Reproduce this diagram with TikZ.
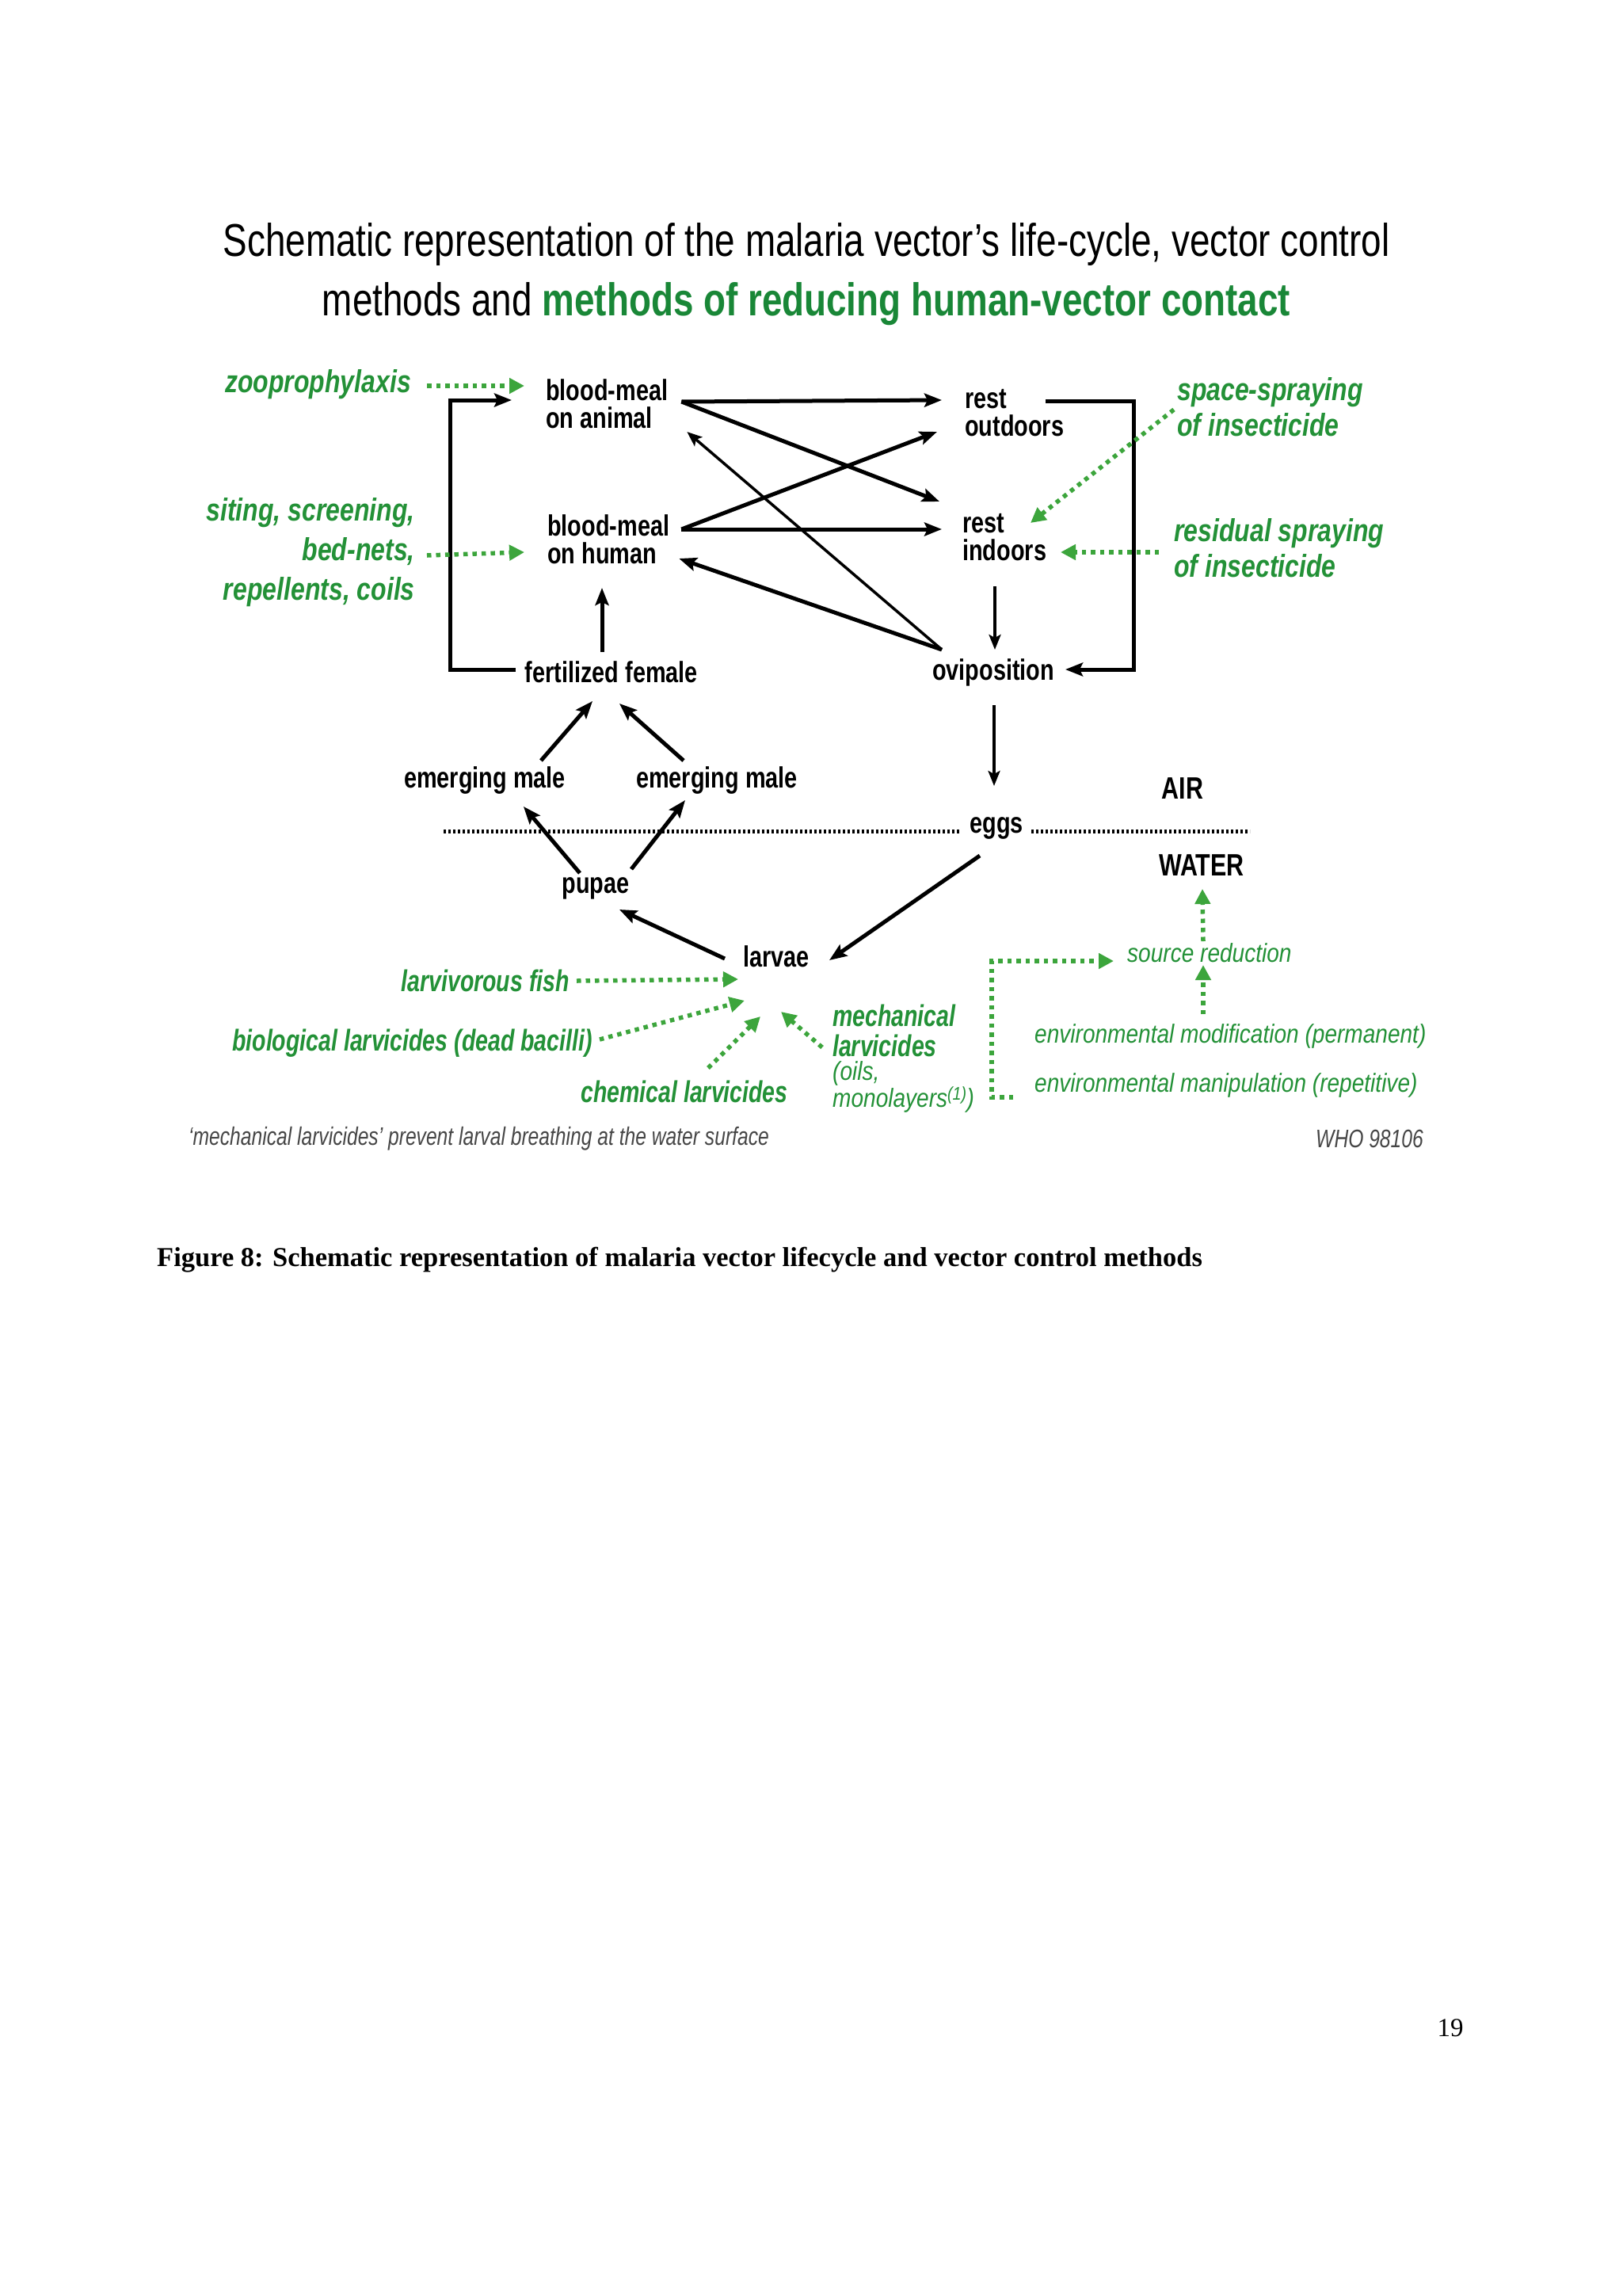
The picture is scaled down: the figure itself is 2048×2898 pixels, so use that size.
\documentclass[tikz,border=0pt]{standalone}
\usepackage{fontspec}
\setmainfont{Liberation Sans}
\newfontfamily\lab[FakeStretch=0.78]{Liberation Sans}
\newfontfamily\titlef[FakeStretch=0.79]{Liberation Sans}
\newfontfamily\glab[FakeStretch=0.8]{Liberation Sans}
\newfontfamily\glabn[FakeStretch=0.75]{Liberation Sans}
\newfontfamily\gsmall[FakeStretch=0.85]{Liberation Sans}
\newfontfamily\footf[FakeStretch=0.77]{Liberation Sans}
\newfontfamily\capf{Liberation Serif}
\usetikzlibrary{arrows.meta}
\definecolor{tgreen}{RGB}{25,135,55}
\definecolor{lgreen}{RGB}{35,145,55}
\definecolor{agreen}{RGB}{60,165,60}
\definecolor{fgray}{RGB}{70,70,70}
\tikzset{
  blk/.style={font=\lab\bfseries\fontsize{37}{35}\selectfont, inner sep=0pt, align=left},
  airw/.style={font=\lab\bfseries\fontsize{39}{39}\selectfont, inner sep=0pt},
  gbig/.style={text=lgreen, font=\glab\bfseries\itshape\fontsize{40}{45}\selectfont, inner sep=0pt},
  glow/.style={text=lgreen, font=\glabn\bfseries\itshape\fontsize{38}{38}\selectfont, inner sep=0pt},
  gsm/.style={text=lgreen, font=\gsmall\itshape\fontsize{33}{33}\selectfont, inner sep=0pt},
  barr/.style={line width=5pt, -{Stealth[length=22pt,width=17pt,inset=4pt]}},
  tarr/.style={line width=3.5pt, -{Stealth[length=19pt,width=15pt,inset=4pt]}},
  garr/.style={agreen, line width=5.5pt, dash pattern=on 5.5pt off 6pt, -{Triangle[length=19pt,width=19pt]}},
  wline/.style={line width=5pt, dash pattern=on 3pt off 3pt},
}
\begin{document}
\begin{tikzpicture}[x=1pt,y=-1pt]
\path[use as bounding box, fill=white] (0,0) rectangle (2048,2898);

% title
\node[inner sep=0pt, font=\titlef\fontsize{58}{58}\selectfont] (t1) at (1018,309)
  {Schematic representation of the malaria vector’s life-cycle, vector control};
\node[inner sep=0pt, font=\titlef\fontsize{58}{58}\selectfont] (t2) at (1018,384)
  {methods and \textcolor{tgreen}{\bfseries methods of reducing human-vector contact}};

% life-cycle nodes
\node[blk, anchor=west] (bma) at (689,510) {blood-meal\\on animal};
\node[blk, anchor=west] (bmh) at (691,681) {blood-meal\\on human};
\node[blk, anchor=west] (ro) at (1218,521) {rest\\outdoors};
\node[blk, anchor=west] (ri) at (1215,678) {rest\\indoors};
\node[blk] (ff) at (772,848) {fertilized female};
\node[blk] (ov) at (1254,849) {oviposition};
\node[blk] (em1) at (612,985) {emerging male};
\node[blk] (em2) at (905,985) {emerging male};
\node[blk] (eggs) at (1258,1045) {eggs};
\node[blk] (pupae) at (752,1121) {pupae};
\node[blk] (larvae) at (980,1207) {larvae};
\node[airw] (air) at (1493,995) {AIR};
\node[airw] (water) at (1517,1092) {WATER};

% green methods
\node[gbig, anchor=east] (zoo) at (519,485) {zooprophylaxis};
\node[gbig, anchor=east, align=right, font=\glab\bfseries\itshape\fontsize{40}{50}\selectfont] (sit) at (524,697)
  {siting, screening,\\bed-nets,\\repellents, coils};
\node[gbig, anchor=west, align=left] (space) at (1486,514) {space-spraying\\of insecticide};
\node[gbig, anchor=west, align=left] (resid) at (1482,692) {residual spraying\\of insecticide};
\node[glow, anchor=east] (fish) at (719,1238) {larvivorous fish};
\node[glow, anchor=east] (biol) at (748,1317) {biological larvicides (dead bacilli)};
\node[glow] (chem) at (864,1378) {chemical larvicides};
\node[glow, anchor=west, align=left] (mech) at (1051,1301) {mechanical\\larvicides};
\node[gsm, anchor=west, align=left, font=\gsmall\itshape\fontsize{33}{31}\selectfont] (mechsub) at (1051,1372) {(oils,\\monolayers\textsuperscript{(1)})};
\node[gsm, anchor=west] (src) at (1423,1203) {source reduction};
\node[gsm, anchor=west] (envmod) at (1306,1308) {environmental modification (permanent)};
\node[gsm, anchor=west] (envman) at (1306,1370) {environmental manipulation (repetitive)};

% notes
\node[inner sep=0pt, anchor=west, text=fgray, font=\footf\itshape\fontsize{32}{32}\selectfont] (foot) at (238,1437)
  {‘mechanical larvicides’ prevent larval breathing at the water surface};
\node[inner sep=0pt, anchor=east, text=fgray, font=\footf\itshape\fontsize{32}{32}\selectfont] (who) at (1797,1437) {WHO 98106};
\node[inner sep=0pt, anchor=west, font=\capf\bfseries\fontsize{34.5}{34.5}\selectfont] (cap) at (198,1590)
  {Figure 8: Schematic representation of malaria vector lifecycle and vector control methods};
\node[inner sep=0pt, font=\capf\fontsize{33}{33}\selectfont] (pg) at (1831,2560) {19};

% black connectors
\draw[barr] ([xshift=17pt,yshift=3pt]bma.east) -- ([xshift=-29pt,yshift=16pt]ro.west);
\draw[barr] ([xshift=17pt,yshift=3pt]bma.east) -- ([xshift=-29pt,yshift=45pt]ri.west);
\draw[barr] ([xshift=15pt,yshift=13pt]bmh.east) -- ([xshift=-35pt,yshift=-24pt]ro.west);
\draw[barr] ([xshift=15pt,yshift=13pt]bmh.east) -- ([xshift=-26pt,yshift=10pt]ri.west);
\draw[tarr] ([xshift=-65pt,yshift=29pt]ov.center) -- ([xshift=24pt,yshift=-35pt]bma.east);
\draw[barr] ([xshift=-65pt,yshift=29pt]ov.center) -- ([xshift=12pt,yshift=-24pt]bmh.east);
\draw[tarr] ([xshift=41pt,yshift=-62pt]ri.west) -- ([xshift=2pt,yshift=29pt]ov.center);
\draw[barr] ([xshift=102pt,yshift=15pt]ro.west) -- ++(111,0) |- ([xshift=91pt,yshift=4pt]ov.center);
\draw[barr] ([xshift=-121pt,yshift=3pt]ff.center) -- ++(-83,0) |- ([xshift=-43pt,yshift=5pt]bma.west);
\draw[barr] ([xshift=-12pt,yshift=25pt]ff.center) -- ([xshift=69pt,yshift=-61pt]bmh.west);
\draw[barr] ([xshift=71pt,yshift=25pt]em1.center) -- ([xshift=-24pt,yshift=-37pt]ff.center);
\draw[barr] ([xshift=-42pt,yshift=25pt]em2.center) -- ([xshift=10pt,yshift=-40pt]ff.center);
\draw[barr] ([xshift=-20pt,yshift=19pt]pupae.center) -- ([xshift=49pt,yshift=-33pt]em1.center);
\draw[barr] ([xshift=45pt,yshift=24pt]pupae.center) -- ([xshift=-40pt,yshift=-25pt]em2.center);
\draw[tarr] ([xshift=1pt,yshift=-41pt]ov.center) -- ([xshift=-3pt,yshift=53pt]eggs.center);
\draw[barr] ([xshift=-21pt,yshift=-35pt]eggs.center) -- ([xshift=67pt,yshift=-5pt]larvae.center);
\draw[barr] ([xshift=-65pt,yshift=-3pt]larvae.center) -- ([xshift=30pt,yshift=-27pt]pupae.center);

% air / water line
\coordinate (wl) at (560,1049);
\coordinate (wr) at (1578,1049);
\draw[wline] (wl) -- ([xshift=-47pt,yshift=-4pt]eggs.center);
\draw[wline] ([xshift=44pt,yshift=-4pt]eggs.center) -- (wr);

% green connectors
\draw[garr] ([xshift=20pt,yshift=-2pt]zoo.east) -- ([xshift=-27pt,yshift=23pt]bma.west);
\draw[garr] ([xshift=15pt,yshift=-4pt]sit.east) -- ([xshift=-29pt,yshift=-16pt]bmh.west);
\draw[garr] ([xshift=-4pt,yshift=-3pt]space.west) -- ([xshift=86pt,yshift=18pt]ri.west);
\draw[garr] ([xshift=-19pt,yshift=-5pt]resid.west) -- ([xshift=124pt,yshift=-19pt]ri.west);
\draw[garr] ([xshift=9pt]fish.east) -- ([xshift=-48pt,yshift=-29pt]larvae.center);
\draw[garr] ([xshift=9pt,yshift=5pt]biol.east) -- ([xshift=-40pt,yshift=-56pt]larvae.center);
\draw[garr] ([xshift=30pt,yshift=30pt]chem.center) -- ([xshift=-20pt,yshift=-76pt]larvae.center);
\draw[garr] ([xshift=-13pt,yshift=-21pt]mech.west) -- ([xshift=6pt,yshift=-70pt]larvae.center);
\draw[garr] ([xshift=-27pt,yshift=-15pt]envman.west) -- ++(-27,0) |- ([xshift=-17pt,yshift=-10pt]src.west);
\draw[garr] ([xshift=213pt,yshift=28pt]envmod.west) -- ([xshift=96pt,yshift=-15pt]src.west);
\draw[garr] ([xshift=96pt,yshift=15pt]src.west) -- ([xshift=1pt,yshift=-30pt]water.center);
\end{tikzpicture}
\end{document}
